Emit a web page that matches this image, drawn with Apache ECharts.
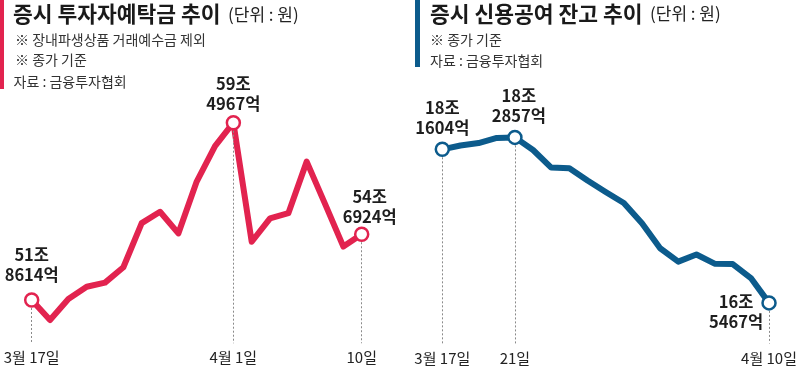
<!DOCTYPE html>
<html><head><meta charset="utf-8">
<script src="https://cdn.jsdelivr.net/npm/echarts@6/dist/echarts.min.js"></script>
<style>html,body{margin:0;padding:0;background:#fff}#c{width:800px;height:369px}</style>
</head><body><div id="c"></div>
<script>
// ---- data ----
const dates = ['3월 17일','18일','19일','20일','21일','24일','25일','26일','27일','28일','31일','4월 1일','2일','3일','4일','7일','8일','9일','10일'];
// 증시 투자자예탁금 (조원)
const depositValues = [51.8614, 51.00, 51.90, 52.43, 52.61, 53.27, 55.17, 55.66, 54.73, 56.96, 58.49, 59.4967, 54.37, 55.38, 55.60, 57.82, 56.00, 54.16, 54.6924];
// 증시 신용공여 잔고 (조원)
const creditValues = [18.1604, 18.20, 18.226, 18.28, 18.2857, 18.153, 17.969, 17.961, 17.833, 17.712, 17.596, 17.383, 17.121, 16.980, 17.055, 16.959, 16.955, 16.808, 16.5467];
const depositMarked = [0, 11, 18];
const depositLabels = ['51조\n8614억', '59조\n4967억', '54조\n6924억'];
const creditMarked = [0, 4, 18];
const creditLabels = ['18조\n1604억', '18조\n2857억', '16조\n5467억'];
const depositTickIdx = [0, 11, 18];
const depositTickText = ['3월 17일', '4월 1일', '10일'];
const creditTickIdx = [0, 4, 18];
const creditTickText = ['3월 17일', '21일', '4월 10일'];

// ---- style ----
const RED = '#e2234f', BLUE = '#0c5b8c';
const FONT = "'Noto Sans CJK KR', 'Noto Sans', sans-serif";
const depositLabelOffsets = [[0, -35], [0, -29], [8, -28]];
const creditLabelOffsets = [[0, -32], [4, -32], [-33, 9]];

const chart = echarts.init(document.getElementById('c'), null, {renderer: 'canvas'});

function tickFormatter(idxs, texts) {
  return function (v, i) { const k = idxs.indexOf(i); return k >= 0 ? texts[k] : ''; };
}
function xAxis(gi, idxs, texts) {
  return {
    type: 'category', gridIndex: gi, data: dates, boundaryGap: false,
    axisLine: {show: false}, axisTick: {show: false}, splitLine: {show: false},
    axisLabel: {interval: 0, formatter: tickFormatter(idxs, texts), fontSize: 15, color: '#222', fontFamily: FONT, margin: 7}
  };
}
function lineSeries(gi, values, color, marked, yMin) {
  return {
    type: 'line', xAxisIndex: gi, yAxisIndex: gi, data: values, symbol: 'none', z: 2,
    lineStyle: {color: color, width: 6, join: 'round', cap: 'round'},
    markLine: {
      silent: true, symbol: ['none', 'none'], label: {show: false}, animation: false,
      lineStyle: {type: [2, 2], color: '#8a8a8a', width: 1},
      data: marked.map(i => [{coord: [i, values[i]]}, {coord: [i, yMin]}])
    }
  };
}
function markSeries(gi, values, color, marked, labels, offsets) {
  return {
    type: 'scatter', xAxisIndex: gi, yAxisIndex: gi, z: 5,
    symbol: 'circle', symbolSize: 13,
    itemStyle: {color: '#fff', borderColor: color, borderWidth: 2.5, opacity: 1},
    data: marked.map((i, k) => ({
      value: [i, values[i]],
      label: {
        show: true, position: 'inside', offset: offsets[k], formatter: labels[k],
        fontSize: 16.5, fontWeight: 'bold', color: '#1e1e1e', lineHeight: 20, align: 'center', fontFamily: FONT
      }
    }))
  };
}

const DEP_MIN = 50, DEP_MAX = 60.5, CR_MIN = 16.12, CR_MAX = 18.5;

chart.setOption({
  animation: false,
  backgroundColor: '#fff',
  grid: [
    {left: 31.7, width: 330, top: 99.4, height: 243.8},
    {left: 442.3, width: 331, top: 117.0, height: 226.5}
  ],
  xAxis: [xAxis(0, depositTickIdx, depositTickText), xAxis(1, creditTickIdx, creditTickText)],
  yAxis: [
    {type: 'value', gridIndex: 0, min: DEP_MIN, max: DEP_MAX, show: false},
    {type: 'value', gridIndex: 1, min: CR_MIN, max: CR_MAX, show: false}
  ],
  series: [
    lineSeries(0, depositValues, RED, depositMarked, DEP_MIN),
    markSeries(0, depositValues, RED, depositMarked, depositLabels, depositLabelOffsets),
    lineSeries(1, creditValues, BLUE, creditMarked, CR_MIN),
    markSeries(1, creditValues, BLUE, creditMarked, creditLabels, creditLabelOffsets)
  ],
  graphic: [
    {type: 'rect', shape: {x: 0, y: 0, width: 4, height: 89}, style: {fill: RED}},
    {type: 'rect', shape: {x: 415, y: 0, width: 5, height: 67}, style: {fill: BLUE}},
    {type: 'text', x: 13, y: 14, style: {text: '증시 투자자예탁금 추이', fontSize: 21.5, fontWeight: 'bold', fontFamily: FONT, fill: '#1a1a1a', verticalAlign: 'middle'}},
    {type: 'text', x: 228, y: 14.5, style: {text: '(단위 : 원)', fontSize: 17, fontFamily: FONT, fill: '#222', verticalAlign: 'middle'}},
    {type: 'text', x: 15, y: 40, style: {text: '※ 장내파생상품 거래예수금 제외', fontSize: 14, fontFamily: FONT, fill: '#333', verticalAlign: 'middle'}},
    {type: 'text', x: 15, y: 60, style: {text: '※ 종가 기준', fontSize: 14, fontFamily: FONT, fill: '#333', verticalAlign: 'middle'}},
    {type: 'text', x: 13.5, y: 81.5, style: {text: '자료 : 금융투자협회', fontSize: 14, fontFamily: FONT, fill: '#333', verticalAlign: 'middle'}},
    {type: 'text', x: 430, y: 13.5, style: {text: '증시 신용공여 잔고 추이', fontSize: 21.5, fontWeight: 'bold', fontFamily: FONT, fill: '#1a1a1a', verticalAlign: 'middle'}},
    {type: 'text', x: 650, y: 14, style: {text: '(단위 : 원)', fontSize: 17, fontFamily: FONT, fill: '#222', verticalAlign: 'middle'}},
    {type: 'text', x: 430, y: 39.5, style: {text: '※ 종가 기준', fontSize: 14, fontFamily: FONT, fill: '#333', verticalAlign: 'middle'}},
    {type: 'text', x: 430, y: 60.5, style: {text: '자료 : 금융투자협회', fontSize: 14, fontFamily: FONT, fill: '#333', verticalAlign: 'middle'}}
  ]
});
</script>
</body></html>
